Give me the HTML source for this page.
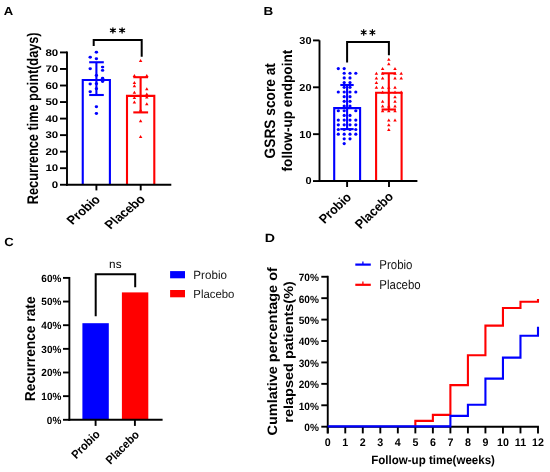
<!DOCTYPE html>
<html><head><meta charset="utf-8"><style>
html,body{margin:0;padding:0;background:#fff;}
svg{display:block;}
#wrap{width:550px;height:472px;overflow:hidden;will-change:transform;}
text{font-family:"Liberation Sans", sans-serif;text-rendering:geometricPrecision;}
</style></head><body><div id="wrap">
<svg width="550" height="472" viewBox="0 0 550 472">
<g>
<rect width="550" height="472" fill="#fff"/>
<text transform="translate(3.79,14.53) scale(1.1281,1)" font-size="11.594" font-weight="bold" fill="#000">A</text>
<text transform="translate(263.38,14.53) scale(1.1690,1)" font-size="11.518" font-weight="bold" fill="#000">B</text>
<text transform="translate(4.18,246.38) scale(1.0912,1)" font-size="12.014" font-weight="bold" fill="#000">C</text>
<text transform="translate(264.86,242.48) scale(1.1919,1)" font-size="11.880" font-weight="bold" fill="#000">D</text>
<ellipse cx="96.40" cy="52.30" rx="1.7" ry="1.45" fill="#0000ff"/>
<ellipse cx="96.40" cy="58.70" rx="1.7" ry="1.45" fill="#0000ff"/>
<ellipse cx="96.40" cy="75.40" rx="1.7" ry="1.45" fill="#0000ff"/>
<ellipse cx="96.40" cy="83.70" rx="1.7" ry="1.45" fill="#0000ff"/>
<ellipse cx="96.40" cy="88.80" rx="1.7" ry="1.45" fill="#0000ff"/>
<ellipse cx="96.40" cy="106.80" rx="1.7" ry="1.45" fill="#0000ff"/>
<ellipse cx="96.40" cy="113.50" rx="1.7" ry="1.45" fill="#0000ff"/>
<ellipse cx="90.20" cy="57.20" rx="1.7" ry="1.45" fill="#0000ff"/>
<ellipse cx="90.20" cy="68.70" rx="1.7" ry="1.45" fill="#0000ff"/>
<ellipse cx="90.20" cy="84.00" rx="1.7" ry="1.45" fill="#0000ff"/>
<ellipse cx="90.20" cy="91.70" rx="1.7" ry="1.45" fill="#0000ff"/>
<ellipse cx="102.60" cy="67.10" rx="1.7" ry="1.45" fill="#0000ff"/>
<ellipse cx="102.60" cy="70.40" rx="1.7" ry="1.45" fill="#0000ff"/>
<ellipse cx="102.60" cy="78.30" rx="1.7" ry="1.45" fill="#0000ff"/>
<ellipse cx="102.60" cy="81.60" rx="1.7" ry="1.45" fill="#0000ff"/>
<path d="M138.85,62.10L142.35,62.10L140.60,59.10Z" fill="#ff0000"/>
<path d="M138.85,111.50L142.35,111.50L140.60,108.50Z" fill="#ff0000"/>
<path d="M138.85,122.20L142.35,122.20L140.60,119.20Z" fill="#ff0000"/>
<path d="M138.85,138.10L142.35,138.10L140.60,135.10Z" fill="#ff0000"/>
<path d="M132.65,77.00L136.15,77.00L134.40,74.00Z" fill="#ff0000"/>
<path d="M132.65,84.00L136.15,84.00L134.40,81.00Z" fill="#ff0000"/>
<path d="M132.65,87.20L136.15,87.20L134.40,84.20Z" fill="#ff0000"/>
<path d="M132.65,93.70L136.15,93.70L134.40,90.70Z" fill="#ff0000"/>
<path d="M132.65,99.00L136.15,99.00L134.40,96.00Z" fill="#ff0000"/>
<path d="M132.65,103.50L136.15,103.50L134.40,100.50Z" fill="#ff0000"/>
<path d="M145.05,77.00L148.55,77.00L146.80,74.00Z" fill="#ff0000"/>
<path d="M145.05,90.30L148.55,90.30L146.80,87.30Z" fill="#ff0000"/>
<path d="M145.05,95.40L148.55,95.40L146.80,92.40Z" fill="#ff0000"/>
<path d="M145.05,98.60L148.55,98.60L146.80,95.60Z" fill="#ff0000"/>
<path d="M145.05,105.20L148.55,105.20L146.80,102.20Z" fill="#ff0000"/>
<path d="M82.75,184.75V80.00H109.90V184.75" stroke="#0000ff" stroke-width="2.1" fill="none" stroke-linejoin="miter"/>
<path d="M127.00,184.75V95.90H154.30V184.75" stroke="#ff0000" stroke-width="2.1" fill="none" stroke-linejoin="miter"/>
<line x1="96.40" y1="62.25" x2="96.40" y2="95.00" stroke="#0000ff" stroke-width="2.1" stroke-linecap="butt"/>
<line x1="89.20" y1="62.25" x2="103.80" y2="62.25" stroke="#0000ff" stroke-width="2.1" stroke-linecap="butt"/>
<line x1="89.20" y1="95.00" x2="103.80" y2="95.00" stroke="#0000ff" stroke-width="2.1" stroke-linecap="butt"/>
<line x1="140.60" y1="77.20" x2="140.60" y2="112.40" stroke="#ff0000" stroke-width="2.1" stroke-linecap="butt"/>
<line x1="133.30" y1="77.20" x2="148.10" y2="77.20" stroke="#ff0000" stroke-width="2.1" stroke-linecap="butt"/>
<line x1="133.30" y1="112.40" x2="148.10" y2="112.40" stroke="#ff0000" stroke-width="2.1" stroke-linecap="butt"/>
<line x1="67.00" y1="51.40" x2="67.00" y2="185.70" stroke="#000" stroke-width="1.9" stroke-linecap="butt"/>
<line x1="66.05" y1="184.75" x2="171.30" y2="184.75" stroke="#000" stroke-width="1.9" stroke-linecap="butt"/>
<line x1="60.00" y1="184.75" x2="67.00" y2="184.75" stroke="#000" stroke-width="1.9" stroke-linecap="butt"/>
<text transform="translate(58.20,187.85) scale(1.2000,1)" font-size="9.600" font-weight="bold" text-anchor="end" fill="#000">0</text>
<line x1="60.00" y1="168.21" x2="67.00" y2="168.21" stroke="#000" stroke-width="1.9" stroke-linecap="butt"/>
<text transform="translate(58.20,171.31) scale(1.2000,1)" font-size="9.600" font-weight="bold" text-anchor="end" fill="#000">10</text>
<line x1="60.00" y1="151.67" x2="67.00" y2="151.67" stroke="#000" stroke-width="1.9" stroke-linecap="butt"/>
<text transform="translate(58.20,154.77) scale(1.2000,1)" font-size="9.600" font-weight="bold" text-anchor="end" fill="#000">20</text>
<line x1="60.00" y1="135.13" x2="67.00" y2="135.13" stroke="#000" stroke-width="1.9" stroke-linecap="butt"/>
<text transform="translate(58.20,138.23) scale(1.2000,1)" font-size="9.600" font-weight="bold" text-anchor="end" fill="#000">30</text>
<line x1="60.00" y1="118.59" x2="67.00" y2="118.59" stroke="#000" stroke-width="1.9" stroke-linecap="butt"/>
<text transform="translate(58.20,121.69) scale(1.2000,1)" font-size="9.600" font-weight="bold" text-anchor="end" fill="#000">40</text>
<line x1="60.00" y1="102.05" x2="67.00" y2="102.05" stroke="#000" stroke-width="1.9" stroke-linecap="butt"/>
<text transform="translate(58.20,105.15) scale(1.2000,1)" font-size="9.600" font-weight="bold" text-anchor="end" fill="#000">50</text>
<line x1="60.00" y1="85.51" x2="67.00" y2="85.51" stroke="#000" stroke-width="1.9" stroke-linecap="butt"/>
<text transform="translate(58.20,88.61) scale(1.2000,1)" font-size="9.600" font-weight="bold" text-anchor="end" fill="#000">60</text>
<line x1="60.00" y1="68.97" x2="67.00" y2="68.97" stroke="#000" stroke-width="1.9" stroke-linecap="butt"/>
<text transform="translate(58.20,72.07) scale(1.2000,1)" font-size="9.600" font-weight="bold" text-anchor="end" fill="#000">70</text>
<line x1="60.00" y1="52.43" x2="67.00" y2="52.43" stroke="#000" stroke-width="1.9" stroke-linecap="butt"/>
<text transform="translate(58.20,55.53) scale(1.2000,1)" font-size="9.600" font-weight="bold" text-anchor="end" fill="#000">80</text>
<line x1="96.40" y1="184.75" x2="96.40" y2="190.40" stroke="#000" stroke-width="1.9" stroke-linecap="butt"/>
<line x1="140.70" y1="184.75" x2="140.70" y2="190.40" stroke="#000" stroke-width="1.9" stroke-linecap="butt"/>
<polyline points="93.70,45.90 93.70,39.90 141.70,39.90 141.70,56.80" stroke="#000" stroke-width="2" fill="none" stroke-linejoin="miter" stroke-linecap="butt"/>
<path d="M112.90,33.00L112.90,27.80M110.42,31.70L115.38,29.10M110.42,29.10L115.38,31.70" stroke="#000" stroke-width="1.25" stroke-linecap="round" fill="none"/>
<circle cx="112.90" cy="30.40" r="1.2" fill="#000"/>
<path d="M122.10,33.00L122.10,27.80M119.62,31.70L124.58,29.10M119.62,29.10L124.58,31.70" stroke="#000" stroke-width="1.25" stroke-linecap="round" fill="none"/>
<circle cx="122.10" cy="30.40" r="1.2" fill="#000"/>
<text transform="translate(37.55,204.15) rotate(-90) scale(0.8239,1)" font-size="15.454" font-weight="bold" fill="#000">Recurrence time point(days)</text>
<text transform="translate(72.40,225.14) scale(1.1599,1) rotate(-45) scale(0.900,1)" font-size="12.313" font-weight="bold" fill="#000">Probio</text>
<text transform="translate(110.62,229.63) scale(1.1980,1) rotate(-45) scale(0.900,1)" font-size="12.186" font-weight="bold" fill="#000">Placebo</text>
<ellipse cx="338.30" cy="68.54" rx="1.6" ry="1.6" fill="#0000ff"/>
<ellipse cx="344.20" cy="68.54" rx="1.6" ry="1.6" fill="#0000ff"/>
<ellipse cx="344.20" cy="73.23" rx="1.6" ry="1.6" fill="#0000ff"/>
<ellipse cx="350.00" cy="73.23" rx="1.6" ry="1.6" fill="#0000ff"/>
<ellipse cx="355.80" cy="73.23" rx="1.6" ry="1.6" fill="#0000ff"/>
<ellipse cx="344.20" cy="77.91" rx="1.6" ry="1.6" fill="#0000ff"/>
<ellipse cx="350.00" cy="77.91" rx="1.6" ry="1.6" fill="#0000ff"/>
<ellipse cx="344.20" cy="82.60" rx="1.6" ry="1.6" fill="#0000ff"/>
<ellipse cx="350.00" cy="82.60" rx="1.6" ry="1.6" fill="#0000ff"/>
<ellipse cx="344.20" cy="87.29" rx="1.6" ry="1.6" fill="#0000ff"/>
<ellipse cx="350.00" cy="87.29" rx="1.6" ry="1.6" fill="#0000ff"/>
<ellipse cx="338.30" cy="91.98" rx="1.6" ry="1.6" fill="#0000ff"/>
<ellipse cx="344.20" cy="91.98" rx="1.6" ry="1.6" fill="#0000ff"/>
<ellipse cx="350.00" cy="91.98" rx="1.6" ry="1.6" fill="#0000ff"/>
<ellipse cx="355.80" cy="91.98" rx="1.6" ry="1.6" fill="#0000ff"/>
<ellipse cx="344.20" cy="96.67" rx="1.6" ry="1.6" fill="#0000ff"/>
<ellipse cx="350.00" cy="96.67" rx="1.6" ry="1.6" fill="#0000ff"/>
<ellipse cx="344.20" cy="101.35" rx="1.6" ry="1.6" fill="#0000ff"/>
<ellipse cx="350.00" cy="101.35" rx="1.6" ry="1.6" fill="#0000ff"/>
<ellipse cx="344.20" cy="106.04" rx="1.6" ry="1.6" fill="#0000ff"/>
<ellipse cx="350.00" cy="106.04" rx="1.6" ry="1.6" fill="#0000ff"/>
<ellipse cx="338.30" cy="110.73" rx="1.6" ry="1.6" fill="#0000ff"/>
<ellipse cx="344.20" cy="110.73" rx="1.6" ry="1.6" fill="#0000ff"/>
<ellipse cx="355.80" cy="110.73" rx="1.6" ry="1.6" fill="#0000ff"/>
<ellipse cx="344.20" cy="115.42" rx="1.6" ry="1.6" fill="#0000ff"/>
<ellipse cx="350.00" cy="115.42" rx="1.6" ry="1.6" fill="#0000ff"/>
<ellipse cx="338.30" cy="120.11" rx="1.6" ry="1.6" fill="#0000ff"/>
<ellipse cx="344.20" cy="120.11" rx="1.6" ry="1.6" fill="#0000ff"/>
<ellipse cx="350.00" cy="120.11" rx="1.6" ry="1.6" fill="#0000ff"/>
<ellipse cx="355.80" cy="120.11" rx="1.6" ry="1.6" fill="#0000ff"/>
<ellipse cx="338.30" cy="124.79" rx="1.6" ry="1.6" fill="#0000ff"/>
<ellipse cx="344.20" cy="124.79" rx="1.6" ry="1.6" fill="#0000ff"/>
<ellipse cx="350.00" cy="124.79" rx="1.6" ry="1.6" fill="#0000ff"/>
<ellipse cx="355.80" cy="124.79" rx="1.6" ry="1.6" fill="#0000ff"/>
<ellipse cx="338.30" cy="129.48" rx="1.6" ry="1.6" fill="#0000ff"/>
<ellipse cx="344.20" cy="129.48" rx="1.6" ry="1.6" fill="#0000ff"/>
<ellipse cx="350.00" cy="129.48" rx="1.6" ry="1.6" fill="#0000ff"/>
<ellipse cx="355.80" cy="129.48" rx="1.6" ry="1.6" fill="#0000ff"/>
<ellipse cx="338.30" cy="134.17" rx="1.6" ry="1.6" fill="#0000ff"/>
<ellipse cx="344.20" cy="134.17" rx="1.6" ry="1.6" fill="#0000ff"/>
<ellipse cx="350.00" cy="134.17" rx="1.6" ry="1.6" fill="#0000ff"/>
<ellipse cx="355.80" cy="134.17" rx="1.6" ry="1.6" fill="#0000ff"/>
<ellipse cx="344.20" cy="138.86" rx="1.6" ry="1.6" fill="#0000ff"/>
<ellipse cx="350.00" cy="138.86" rx="1.6" ry="1.6" fill="#0000ff"/>
<ellipse cx="344.20" cy="143.55" rx="1.6" ry="1.6" fill="#0000ff"/>
<path d="M387.05,60.66L390.55,60.66L388.80,57.66Z" fill="#ff0000"/>
<path d="M387.05,65.35L390.55,65.35L388.80,62.35Z" fill="#ff0000"/>
<path d="M380.85,70.04L384.35,70.04L382.60,67.04Z" fill="#ff0000"/>
<path d="M393.25,70.04L396.75,70.04L395.00,67.04Z" fill="#ff0000"/>
<path d="M374.65,74.73L378.15,74.73L376.40,71.73Z" fill="#ff0000"/>
<path d="M380.85,74.73L384.35,74.73L382.60,71.73Z" fill="#ff0000"/>
<path d="M393.25,74.73L396.75,74.73L395.00,71.73Z" fill="#ff0000"/>
<path d="M399.45,74.73L402.95,74.73L401.20,71.73Z" fill="#ff0000"/>
<path d="M374.65,79.41L378.15,79.41L376.40,76.41Z" fill="#ff0000"/>
<path d="M380.85,79.41L384.35,79.41L382.60,76.41Z" fill="#ff0000"/>
<path d="M393.25,79.41L396.75,79.41L395.00,76.41Z" fill="#ff0000"/>
<path d="M399.45,79.41L402.95,79.41L401.20,76.41Z" fill="#ff0000"/>
<path d="M374.65,84.10L378.15,84.10L376.40,81.10Z" fill="#ff0000"/>
<path d="M374.65,88.79L378.15,88.79L376.40,85.79Z" fill="#ff0000"/>
<path d="M380.85,88.79L384.35,88.79L382.60,85.79Z" fill="#ff0000"/>
<path d="M387.05,88.79L390.55,88.79L388.80,85.79Z" fill="#ff0000"/>
<path d="M393.25,88.79L396.75,88.79L395.00,85.79Z" fill="#ff0000"/>
<path d="M380.85,93.48L384.35,93.48L382.60,90.48Z" fill="#ff0000"/>
<path d="M387.05,93.48L390.55,93.48L388.80,90.48Z" fill="#ff0000"/>
<path d="M393.25,93.48L396.75,93.48L395.00,90.48Z" fill="#ff0000"/>
<path d="M399.45,93.48L402.95,93.48L401.20,90.48Z" fill="#ff0000"/>
<path d="M393.25,98.17L396.75,98.17L395.00,95.17Z" fill="#ff0000"/>
<path d="M380.85,102.85L384.35,102.85L382.60,99.85Z" fill="#ff0000"/>
<path d="M393.25,102.85L396.75,102.85L395.00,99.85Z" fill="#ff0000"/>
<path d="M380.85,107.54L384.35,107.54L382.60,104.54Z" fill="#ff0000"/>
<path d="M387.05,107.54L390.55,107.54L388.80,104.54Z" fill="#ff0000"/>
<path d="M393.25,107.54L396.75,107.54L395.00,104.54Z" fill="#ff0000"/>
<path d="M380.85,112.23L384.35,112.23L382.60,109.23Z" fill="#ff0000"/>
<path d="M387.05,112.23L390.55,112.23L388.80,109.23Z" fill="#ff0000"/>
<path d="M393.25,112.23L396.75,112.23L395.00,109.23Z" fill="#ff0000"/>
<path d="M387.05,121.61L390.55,121.61L388.80,118.61Z" fill="#ff0000"/>
<path d="M393.25,121.61L396.75,121.61L395.00,118.61Z" fill="#ff0000"/>
<path d="M387.05,126.29L390.55,126.29L388.80,123.29Z" fill="#ff0000"/>
<path d="M387.05,130.98L390.55,130.98L388.80,127.98Z" fill="#ff0000"/>
<path d="M334.20,181.05V108.10H360.10V181.05" stroke="#0000ff" stroke-width="2.1" fill="none" stroke-linejoin="miter"/>
<path d="M376.10,181.05V92.80H401.60V181.05" stroke="#ff0000" stroke-width="2.1" fill="none" stroke-linejoin="miter"/>
<line x1="347.10" y1="85.00" x2="347.10" y2="129.10" stroke="#0000ff" stroke-width="2.1" stroke-linecap="butt"/>
<line x1="340.30" y1="85.00" x2="353.70" y2="85.00" stroke="#0000ff" stroke-width="2.1" stroke-linecap="butt"/>
<line x1="340.30" y1="129.10" x2="353.70" y2="129.10" stroke="#0000ff" stroke-width="2.1" stroke-linecap="butt"/>
<line x1="388.80" y1="73.30" x2="388.80" y2="109.50" stroke="#ff0000" stroke-width="2.1" stroke-linecap="butt"/>
<line x1="381.60" y1="73.30" x2="395.90" y2="73.30" stroke="#ff0000" stroke-width="2.1" stroke-linecap="butt"/>
<line x1="381.60" y1="109.50" x2="395.90" y2="109.50" stroke="#ff0000" stroke-width="2.1" stroke-linecap="butt"/>
<line x1="319.50" y1="40.30" x2="319.50" y2="182.00" stroke="#000" stroke-width="1.9" stroke-linecap="butt"/>
<line x1="318.55" y1="181.05" x2="417.40" y2="181.05" stroke="#000" stroke-width="1.9" stroke-linecap="butt"/>
<line x1="313.00" y1="181.05" x2="319.50" y2="181.05" stroke="#000" stroke-width="1.9" stroke-linecap="butt"/>
<text transform="translate(311.50,184.45) scale(1.0800,1)" font-size="10.100" font-weight="bold" text-anchor="end" fill="#000">0</text>
<line x1="313.00" y1="134.17" x2="319.50" y2="134.17" stroke="#000" stroke-width="1.9" stroke-linecap="butt"/>
<text transform="translate(311.50,137.57) scale(1.0800,1)" font-size="10.100" font-weight="bold" text-anchor="end" fill="#000">10</text>
<line x1="313.00" y1="87.29" x2="319.50" y2="87.29" stroke="#000" stroke-width="1.9" stroke-linecap="butt"/>
<text transform="translate(311.50,90.69) scale(1.0800,1)" font-size="10.100" font-weight="bold" text-anchor="end" fill="#000">20</text>
<line x1="313.00" y1="40.41" x2="319.50" y2="40.41" stroke="#000" stroke-width="1.9" stroke-linecap="butt"/>
<text transform="translate(311.50,43.81) scale(1.0800,1)" font-size="10.100" font-weight="bold" text-anchor="end" fill="#000">30</text>
<line x1="347.10" y1="181.05" x2="347.10" y2="187.00" stroke="#000" stroke-width="1.9" stroke-linecap="butt"/>
<line x1="389.00" y1="181.05" x2="389.00" y2="187.00" stroke="#000" stroke-width="1.9" stroke-linecap="butt"/>
<polyline points="347.10,62.60 347.10,42.00 388.90,42.00 388.90,55.20" stroke="#000" stroke-width="2" fill="none" stroke-linejoin="miter" stroke-linecap="butt"/>
<path d="M363.70,35.15L363.70,29.65M361.32,33.77L366.08,31.02M361.32,31.02L366.08,33.77" stroke="#000" stroke-width="1.25" stroke-linecap="round" fill="none"/>
<circle cx="363.70" cy="32.40" r="1.2" fill="#000"/>
<path d="M372.40,35.15L372.40,29.65M370.02,33.77L374.78,31.02M370.02,31.02L374.78,33.77" stroke="#000" stroke-width="1.25" stroke-linecap="round" fill="none"/>
<circle cx="372.40" cy="32.40" r="1.2" fill="#000"/>
<text transform="translate(274.95,158.41) rotate(-90) scale(0.9080,1)" font-size="15.123" font-weight="bold" fill="#000">GSRS score at</text>
<text transform="translate(291.90,171.44) rotate(-90) scale(0.9596,1)" font-size="14.194" font-weight="bold" fill="#000">follow-up endpoint</text>
<text transform="translate(324.43,224.34) scale(1.0568,1) rotate(-45) scale(0.920,1)" font-size="12.757" font-weight="bold" fill="#000">Probio</text>
<text transform="translate(360.58,229.52) scale(1.0516,1) rotate(-45) scale(0.920,1)" font-size="12.831" font-weight="bold" fill="#000">Placebo</text>
<rect x="82.40" y="323.20" width="26.40" height="96.60" fill="#0000ff" stroke="none" stroke-width="2"/>
<rect x="121.90" y="292.40" width="26.40" height="127.40" fill="#ff0000" stroke="none" stroke-width="2"/>
<line x1="69.35" y1="276.95" x2="69.35" y2="420.75" stroke="#000" stroke-width="1.9" stroke-linecap="butt"/>
<line x1="68.40" y1="419.80" x2="162.60" y2="419.80" stroke="#000" stroke-width="1.9" stroke-linecap="butt"/>
<line x1="63.00" y1="419.80" x2="69.35" y2="419.80" stroke="#000" stroke-width="1.9" stroke-linecap="butt"/>
<text transform="translate(61.30,423.70) scale(0.9600,1)" font-size="10.400" font-weight="bold" text-anchor="end" fill="#000">0%</text>
<line x1="63.00" y1="396.15" x2="69.35" y2="396.15" stroke="#000" stroke-width="1.9" stroke-linecap="butt"/>
<text transform="translate(61.30,400.05) scale(0.9600,1)" font-size="10.400" font-weight="bold" text-anchor="end" fill="#000">10%</text>
<line x1="63.00" y1="372.50" x2="69.35" y2="372.50" stroke="#000" stroke-width="1.9" stroke-linecap="butt"/>
<text transform="translate(61.30,376.40) scale(0.9600,1)" font-size="10.400" font-weight="bold" text-anchor="end" fill="#000">20%</text>
<line x1="63.00" y1="348.85" x2="69.35" y2="348.85" stroke="#000" stroke-width="1.9" stroke-linecap="butt"/>
<text transform="translate(61.30,352.75) scale(0.9600,1)" font-size="10.400" font-weight="bold" text-anchor="end" fill="#000">30%</text>
<line x1="63.00" y1="325.20" x2="69.35" y2="325.20" stroke="#000" stroke-width="1.9" stroke-linecap="butt"/>
<text transform="translate(61.30,329.10) scale(0.9600,1)" font-size="10.400" font-weight="bold" text-anchor="end" fill="#000">40%</text>
<line x1="63.00" y1="301.55" x2="69.35" y2="301.55" stroke="#000" stroke-width="1.9" stroke-linecap="butt"/>
<text transform="translate(61.30,305.45) scale(0.9600,1)" font-size="10.400" font-weight="bold" text-anchor="end" fill="#000">50%</text>
<line x1="63.00" y1="277.90" x2="69.35" y2="277.90" stroke="#000" stroke-width="1.9" stroke-linecap="butt"/>
<text transform="translate(61.30,281.80) scale(0.9600,1)" font-size="10.400" font-weight="bold" text-anchor="end" fill="#000">60%</text>
<line x1="95.60" y1="419.80" x2="95.60" y2="425.90" stroke="#000" stroke-width="1.9" stroke-linecap="butt"/>
<line x1="134.90" y1="419.80" x2="134.90" y2="425.90" stroke="#000" stroke-width="1.9" stroke-linecap="butt"/>
<polyline points="95.70,316.20 95.70,274.30 135.20,274.30 135.20,287.20" stroke="#000" stroke-width="2" fill="none" stroke-linejoin="miter" stroke-linecap="butt"/>
<text transform="translate(109.08,267.82) scale(1.0048,1)" font-size="11.728" font-weight="normal" fill="#000">ns</text>
<text transform="translate(35.47,401.21) rotate(-90) scale(0.9549,1)" font-size="14.427" font-weight="bold" fill="#000">Recurrence rate</text>
<rect x="170.10" y="271.10" width="14.90" height="7.20" fill="#0000ff" stroke="none" stroke-width="2"/>
<rect x="170.10" y="290.00" width="14.90" height="7.30" fill="#ff0000" stroke="none" stroke-width="2"/>
<text transform="translate(193.37,279.42) scale(0.9762,1)" font-size="11.915" font-weight="normal" fill="#111">Probio</text>
<text transform="translate(193.32,298.00) scale(0.9606,1)" font-size="11.820" font-weight="normal" fill="#111">Placebo</text>
<text transform="translate(76.18,459.47) scale(0.9993,1) rotate(-45) scale(0.920,1)" font-size="11.887" font-weight="bold" fill="#000">Probio</text>
<text transform="translate(110.62,465.11) scale(0.9843,1) rotate(-45) scale(0.920,1)" font-size="11.929" font-weight="bold" fill="#000">Placebo</text>
<line x1="327.75" y1="275.81" x2="327.75" y2="433.40" stroke="#000" stroke-width="1.9" stroke-linecap="butt"/>
<line x1="326.80" y1="426.70" x2="538.94" y2="426.70" stroke="#000" stroke-width="1.9" stroke-linecap="butt"/>
<line x1="321.30" y1="426.70" x2="327.75" y2="426.70" stroke="#000" stroke-width="1.9" stroke-linecap="butt"/>
<text transform="translate(318.90,431.10) scale(0.9500,1)" font-size="10.600" font-weight="bold" text-anchor="end" fill="#000">0%</text>
<line x1="321.30" y1="405.28" x2="327.75" y2="405.28" stroke="#000" stroke-width="1.9" stroke-linecap="butt"/>
<text transform="translate(318.90,409.68) scale(0.9500,1)" font-size="10.600" font-weight="bold" text-anchor="end" fill="#000">10%</text>
<line x1="321.30" y1="383.86" x2="327.75" y2="383.86" stroke="#000" stroke-width="1.9" stroke-linecap="butt"/>
<text transform="translate(318.90,388.26) scale(0.9500,1)" font-size="10.600" font-weight="bold" text-anchor="end" fill="#000">20%</text>
<line x1="321.30" y1="362.44" x2="327.75" y2="362.44" stroke="#000" stroke-width="1.9" stroke-linecap="butt"/>
<text transform="translate(318.90,366.84) scale(0.9500,1)" font-size="10.600" font-weight="bold" text-anchor="end" fill="#000">30%</text>
<line x1="321.30" y1="341.02" x2="327.75" y2="341.02" stroke="#000" stroke-width="1.9" stroke-linecap="butt"/>
<text transform="translate(318.90,345.42) scale(0.9500,1)" font-size="10.600" font-weight="bold" text-anchor="end" fill="#000">40%</text>
<line x1="321.30" y1="319.60" x2="327.75" y2="319.60" stroke="#000" stroke-width="1.9" stroke-linecap="butt"/>
<text transform="translate(318.90,324.00) scale(0.9500,1)" font-size="10.600" font-weight="bold" text-anchor="end" fill="#000">50%</text>
<line x1="321.30" y1="298.18" x2="327.75" y2="298.18" stroke="#000" stroke-width="1.9" stroke-linecap="butt"/>
<text transform="translate(318.90,302.58) scale(0.9500,1)" font-size="10.600" font-weight="bold" text-anchor="end" fill="#000">60%</text>
<line x1="321.30" y1="276.76" x2="327.75" y2="276.76" stroke="#000" stroke-width="1.9" stroke-linecap="butt"/>
<text transform="translate(318.90,281.16) scale(0.9500,1)" font-size="10.600" font-weight="bold" text-anchor="end" fill="#000">70%</text>
<line x1="327.75" y1="426.70" x2="327.75" y2="433.40" stroke="#000" stroke-width="1.9" stroke-linecap="butt"/>
<text transform="translate(327.75,446.40) scale(0.9700,1)" font-size="11.000" font-weight="bold" text-anchor="middle" fill="#000">0</text>
<line x1="345.27" y1="426.70" x2="345.27" y2="433.40" stroke="#000" stroke-width="1.9" stroke-linecap="butt"/>
<text transform="translate(345.27,446.40) scale(0.9700,1)" font-size="11.000" font-weight="bold" text-anchor="middle" fill="#000">1</text>
<line x1="362.79" y1="426.70" x2="362.79" y2="433.40" stroke="#000" stroke-width="1.9" stroke-linecap="butt"/>
<text transform="translate(362.79,446.40) scale(0.9700,1)" font-size="11.000" font-weight="bold" text-anchor="middle" fill="#000">2</text>
<line x1="380.31" y1="426.70" x2="380.31" y2="433.40" stroke="#000" stroke-width="1.9" stroke-linecap="butt"/>
<text transform="translate(380.31,446.40) scale(0.9700,1)" font-size="11.000" font-weight="bold" text-anchor="middle" fill="#000">3</text>
<line x1="397.83" y1="426.70" x2="397.83" y2="433.40" stroke="#000" stroke-width="1.9" stroke-linecap="butt"/>
<text transform="translate(397.83,446.40) scale(0.9700,1)" font-size="11.000" font-weight="bold" text-anchor="middle" fill="#000">4</text>
<line x1="415.35" y1="426.70" x2="415.35" y2="433.40" stroke="#000" stroke-width="1.9" stroke-linecap="butt"/>
<text transform="translate(415.35,446.40) scale(0.9700,1)" font-size="11.000" font-weight="bold" text-anchor="middle" fill="#000">5</text>
<line x1="432.87" y1="426.70" x2="432.87" y2="433.40" stroke="#000" stroke-width="1.9" stroke-linecap="butt"/>
<text transform="translate(432.87,446.40) scale(0.9700,1)" font-size="11.000" font-weight="bold" text-anchor="middle" fill="#000">6</text>
<line x1="450.39" y1="426.70" x2="450.39" y2="433.40" stroke="#000" stroke-width="1.9" stroke-linecap="butt"/>
<text transform="translate(450.39,446.40) scale(0.9700,1)" font-size="11.000" font-weight="bold" text-anchor="middle" fill="#000">7</text>
<line x1="467.91" y1="426.70" x2="467.91" y2="433.40" stroke="#000" stroke-width="1.9" stroke-linecap="butt"/>
<text transform="translate(467.91,446.40) scale(0.9700,1)" font-size="11.000" font-weight="bold" text-anchor="middle" fill="#000">8</text>
<line x1="485.43" y1="426.70" x2="485.43" y2="433.40" stroke="#000" stroke-width="1.9" stroke-linecap="butt"/>
<text transform="translate(485.43,446.40) scale(0.9700,1)" font-size="11.000" font-weight="bold" text-anchor="middle" fill="#000">9</text>
<line x1="502.95" y1="426.70" x2="502.95" y2="433.40" stroke="#000" stroke-width="1.9" stroke-linecap="butt"/>
<text transform="translate(502.95,446.40) scale(0.9700,1)" font-size="11.000" font-weight="bold" text-anchor="middle" fill="#000">10</text>
<line x1="520.47" y1="426.70" x2="520.47" y2="433.40" stroke="#000" stroke-width="1.9" stroke-linecap="butt"/>
<text transform="translate(520.47,446.40) scale(0.9700,1)" font-size="11.000" font-weight="bold" text-anchor="middle" fill="#000">11</text>
<line x1="537.99" y1="426.70" x2="537.99" y2="433.40" stroke="#000" stroke-width="1.9" stroke-linecap="butt"/>
<text transform="translate(537.99,446.40) scale(0.9700,1)" font-size="11.000" font-weight="bold" text-anchor="middle" fill="#000">12</text>
<polyline points="415.35,426.50 415.35,426.50 415.35,420.90 432.87,420.90 432.87,414.90 450.39,414.90 450.39,385.10 467.91,385.10 467.91,355.30 485.43,355.30 485.43,325.60 502.95,325.60 502.95,308.00 520.47,308.00 520.47,301.70 537.99,301.70 537.99,299.00" stroke="#ff0000" stroke-width="2.1" fill="none" stroke-linejoin="miter" stroke-linecap="butt"/>
<polyline points="327.75,426.40 450.39,426.40 450.39,426.40 450.39,426.40 450.39,415.90 467.91,415.90 467.91,404.80 485.43,404.80 485.43,378.60 502.95,378.60 502.95,357.60 520.47,357.60 520.47,335.80 537.99,335.80 537.99,326.80" stroke="#0000ff" stroke-width="2.1" fill="none" stroke-linejoin="miter" stroke-linecap="butt"/>
<text transform="translate(371.21,464.13) scale(0.9541,1)" font-size="12.100" font-weight="bold" fill="#000">Follow-up time(weeks)</text>
<text transform="translate(276.74,435.48) rotate(-90) scale(1.0628,1)" font-size="13.654" font-weight="bold" fill="#000">Cumlative percentage of</text>
<text transform="translate(292.90,422.65) rotate(-90) scale(1.1024,1)" font-size="13.133" font-weight="bold" fill="#000">relapsed patients(%)</text>
<line x1="355.30" y1="264.60" x2="370.80" y2="264.60" stroke="#0000ff" stroke-width="2.2" stroke-linecap="butt"/>
<line x1="362.90" y1="264.60" x2="362.90" y2="261.40" stroke="#0000ff" stroke-width="1.3" stroke-linecap="butt"/>
<line x1="355.30" y1="284.80" x2="370.80" y2="284.80" stroke="#ff0000" stroke-width="2.2" stroke-linecap="butt"/>
<line x1="362.90" y1="284.80" x2="362.90" y2="281.60" stroke="#ff0000" stroke-width="1.3" stroke-linecap="butt"/>
<text transform="translate(379.34,269.17) scale(0.8882,1)" font-size="12.885" font-weight="normal" fill="#111">Probio</text>
<text transform="translate(379.37,289.02) scale(0.8856,1)" font-size="12.915" font-weight="normal" fill="#111">Placebo</text>
</g>
</svg></div>
</body></html>
